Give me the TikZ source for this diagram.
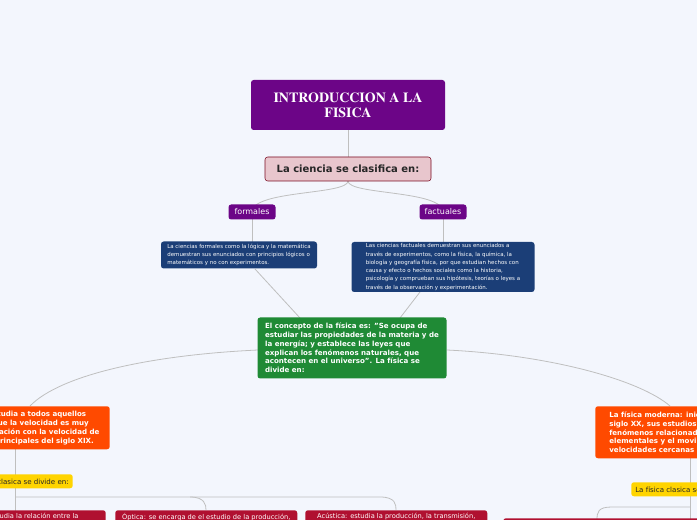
\documentclass[tikz,border=0pt]{standalone}
\usepackage{fontspec}
\setmainfont{DejaVu Sans}
\begin{document}
\begin{tikzpicture}[x=0.75pt,y=-0.75pt,
 box/.style={rounded corners=2pt,inner sep=0pt,align=left,text=white},
 con/.style={draw=black!25,line width=0.6pt}]
\definecolor{bg}{HTML}{F3F6FD}
\definecolor{pur}{HTML}{6C0587}
\definecolor{pk}{HTML}{E8C6CD}
\definecolor{dk}{HTML}{1B3E77}
\definecolor{gr}{HTML}{1F8A35}
\definecolor{orng}{HTML}{FF4A00}
\definecolor{yl}{HTML}{FFD400}
\definecolor{rd}{HTML}{B01030}
\fill[bg] (0,0) rectangle (697,520);
\useasboundingbox (0,0) rectangle (697,520);
\clip (0,0) rectangle (697,520);
% connectors
\draw[con] (348,105) -- (348,169);
\draw[con] (348,181) .. controls (348,195) and (252,190) .. (252,212);
\draw[con] (348,181) .. controls (348,195) and (443,190) .. (443,212);
\draw[con] (252,212) -- (252,255);
\draw[con] (443,212) -- (443,267);
\draw[con] (255,269) -- (300,318);
\draw[con] (420,292) -- (400,318);
\draw[con] (258,350) .. controls (150,355) and (60,375) .. (30,406);
\draw[con] (447,350) .. controls (550,355) and (640,380) .. (670,406);
\draw[con] (15,449) -- (15,520);
\draw[con] (15,497) -- (190,497) .. controls (205,497) and (206,505) .. (206,510);
\draw[con] (190,497) -- (380,497) .. controls (396,497) and (396,505) .. (396,510);
\draw[con] (690,458) -- (690,520);
\draw[con] (690,507) -- (612,507) .. controls (598,507) and (597,512) .. (597,520);
% nodes
\node[box,fill=pur,minimum width=194pt*0.75,minimum height=50*0.75pt,align=center,font=\fontspec{TeX Gyre Termes}\bfseries\fontsize{10.5}{11}\selectfont] (t) at (348,105) {INTRODUCCION A LA\\FISICA};
\node[box,fill=pk,draw=rd!70!black,text=black!85,minimum width=166*0.75pt,minimum height=24*0.75pt,align=center,font=\bfseries\fontsize{7.5}{9}\selectfont] (c) at (348,169) {La ciencia se clasifica en:};
\node[box,fill=pur,minimum width=47*0.75pt,minimum height=15*0.75pt,align=center,font=\fontsize{6}{7}\selectfont] (fo) at (252,212) {formales};
\node[box,fill=pur,minimum width=47*0.75pt,minimum height=15*0.75pt,align=center,font=\fontsize{6}{7}\selectfont] (fa) at (443,212) {factuales};
\node[box,fill=dk,minimum width=156*0.75pt,minimum height=27*0.75pt,inner xsep=3pt,font=\fontsize{4.1}{6.2}\selectfont] (fob) at (239,255) {La ciencias formales como la lógica y la matemática\\demuestran sus enunciados con principios lógicos o\\matemáticos y no con experimentos.};
\node[box,fill=dk,minimum width=183*0.75pt,minimum height=50*0.75pt,inner xsep=3pt,font=\fontsize{4.1}{6.2}\selectfont] (fab) at (443,267) {Las ciencias factuales demuestran sus enunciados a\\través de experimentos, como la física, la química, la\\biología y geografía física, por que estudian hechos con\\causa y efecto o hechos sociales como la historia,\\psicología y comprueban sus hipótesis, teorías o leyes a\\través de la observación y experimentación.};
\node[box,fill=gr,minimum width=189*0.75pt,minimum height=61*0.75pt,inner xsep=5pt,font=\bfseries\fontsize{5.3}{6.6}\selectfont] (g) at (352,348) {El concepto de la física es: "Se ocupa de\\estudiar las propiedades de la materia y de\\la energía; y establece las leyes que\\explican los fenómenos naturales, que\\acontecen en el universo". La física se\\divide en:};
\node[box,fill=orng,anchor=north east,minimum width=200*0.75pt,minimum height=43*0.75pt,inner xsep=4pt,font=\bfseries\fontsize{5.3}{6.6}\selectfont] (lo) at (110,406) {La física clásica: estudia a todos aquellos\\fenómenos en los que la velocidad es muy\\pequeña en comparación con la velocidad de\\la luz. Fenómenos principales del siglo XIX.};
\node[box,fill=orng,anchor=north west,minimum width=180*0.75pt,minimum height=52*0.75pt,inner xsep=4pt,font=\bfseries\fontsize{5.3}{6.6}\selectfont] (ro) at (595,406) {La física moderna: inicio en el\\siglo XX, sus estudios son los\\fenómenos relacionado con partículas\\elementales y el movimiento a\\velocidades cercanas a la luz.};
\node[box,fill=yl,text=black!85,anchor=north east,minimum height=14*0.75pt,inner xsep=3pt,font=\fontsize{5.3}{6}\selectfont] (ly) at (73,474) {La física clasica se divide en:};
\node[box,fill=yl,text=black!85,anchor=north west,minimum height=14*0.75pt,inner xsep=3pt,font=\fontsize{5.3}{6}\selectfont] (ry) at (631,482) {La física clasica se divide en:};
\node[box,fill=rd,anchor=north east,minimum width=180*0.75pt,minimum height=20*0.75pt,inner xsep=3pt,inner ysep=2pt,font=\fontsize{5}{6}\selectfont,text depth=10pt] (r1) at (106,510) {Mecánica: estudia la relación entre la};
\node[box,fill=rd,anchor=north west,minimum width=182*0.75pt,minimum height=20*0.75pt,inner xsep=3pt,inner ysep=2pt,font=\fontsize{5}{6}\selectfont,text depth=10pt] (r2) at (115,510) {Óptica: se encarga de el estudio de la producción,};
\node[box,fill=rd,anchor=north west,minimum width=182*0.75pt,minimum height=20*0.75pt,inner xsep=3pt,inner ysep=2pt,font=\fontsize{5}{6}\selectfont,text depth=10pt] (r3) at (305,510) {Acústica: estudia la producción, la transmisión,};
\node[box,fill=rd,anchor=north west,minimum width=200*0.75pt,minimum height=20*0.75pt] (r4) at (503,518) {};
\end{tikzpicture}
\end{document}
